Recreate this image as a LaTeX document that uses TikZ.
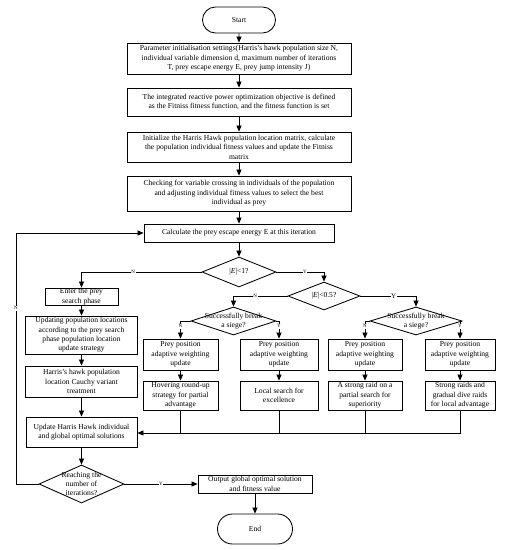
\documentclass[tikz,border=0pt]{standalone}
\usepackage{fontspec}
\setmainfont{Liberation Serif}
\usetikzlibrary{shapes.geometric,shapes.misc,arrows.meta}
\begin{document}
\begin{tikzpicture}[x=1pt,y=-1pt,
  every node/.style={font=\fontsize{7.6}{9.4}\selectfont},
  box/.style={draw,rectangle,inner sep=0pt,align=center,line width=0.85pt},
  term/.style={draw,rounded rectangle,inner sep=0pt,line width=0.85pt},
  dia/.style={draw,diamond,inner sep=0pt,line width=0.85pt},
  arr/.style={-{Triangle[length=6pt,width=5pt]},line width=0.75pt},
  ln/.style={line width=0.75pt},
  yn/.style={font=\fontsize{5}{6}\selectfont,fill=white,inner sep=0.6pt},
  ynbig/.style={font=\fontsize{7}{8}\selectfont,fill=white,inner sep=0.6pt}]
\useasboundingbox (0,0) rectangle (506,550);
% main column
\node[term,minimum width=73pt,minimum height=26pt] (start) at (239,20) {Start};
\node[box,minimum width=224pt,minimum height=31pt] (b1) at (239,58.5) {Parameter initialisation settings(Harris's hawk population size N,\\individual variable dimension d, maximum number of iterations\\T, prey escape energy E, prey jump intensity J)};
\node[box,minimum width=224pt,minimum height=28pt] (b2) at (239,102) {The integrated reactive power optimization objective is defined\\as the Fitniss fitness function, and the fitness function is set};
\node[box,minimum width=224pt,minimum height=30pt] (b3) at (239,147) {Initialize the Harris Hawk population location matrix, calculate\\the population individual fitness values and update the Fitniss\\matrix};
\node[box,minimum width=224pt,minimum height=35pt] (b4) at (239,193.5) {Checking for variable crossing in individuals of the population\\and adjusting individual fitness values to select the best\\individual as prey};
\node[box,minimum width=190pt,minimum height=18pt] (b5) at (239,233) {Calculate the prey escape energy E at this iteration};
% decisions
\node[dia,minimum width=74pt,minimum height=30pt,label=center:{|\textit{E}|<1?}] (d1) at (239,272) {};
\node[dia,minimum width=72pt,minimum height=28pt,label=center:{|\textit{E}|<0.5?}] (d2) at (324,296) {};
\node[dia,minimum width=85pt,minimum height=28pt,label={[align=center]center:Successfully break\\a siege?}] (d3) at (233.5,321) {};
\node[dia,minimum width=92pt,minimum height=28pt,label={[align=center]center:Successfully break\\a siege?}] (d4) at (416,321) {};
% four strategy columns
\node[box,minimum width=75pt,minimum height=31pt] (pa) at (180.5,354.5) {Prey position\\adaptive weighting\\update};
\node[box,minimum width=78pt,minimum height=31pt] (pb) at (279,354.5) {Prey position\\adaptive weighting\\update};
\node[box,minimum width=74pt,minimum height=31pt] (pc) at (365,354.5) {Prey position\\adaptive weighting\\update};
\node[box,minimum width=70pt,minimum height=31pt] (pd) at (460,354.5) {Prey position\\adaptive weighting\\update};
\node[box,minimum width=75pt,minimum height=29pt] (sa) at (180.5,395.5) {Hovering round-up\\strategy for partial\\advantage};
\node[box,minimum width=78pt,minimum height=29pt] (sb) at (279,395.5) {Local search for\\excellence};
\node[box,minimum width=74pt,minimum height=29pt] (sc) at (365,395.5) {A strong raid on a\\partial search for\\superiority};
\node[box,minimum width=70pt,minimum height=29pt] (sd) at (460,395.5) {Strong raids and\\gradual dive raids\\for local advantage};
% left column
\node[box,minimum width=73pt,minimum height=17pt] (enter) at (81.5,296.5) {Enter the prey\\search phase};
\node[box,minimum width=112pt,minimum height=38pt] (upd) at (81.5,335) {Updating population locations\\according to the prey search\\phase population location\\update strategy};
\node[box,minimum width=112pt,minimum height=31pt] (cau) at (81.5,381.5) {Harris's hawk population\\location Cauchy variant\\treatment};
\node[box,minimum width=111pt,minimum height=30pt] (uopt) at (81.5,432) {Update Harris Hawk individual\\and global optimal solutions};
\node[dia,minimum width=85pt,minimum height=38pt,label={[align=center]center:Reaching the\\number of\\iterations?}] (d5) at (81.5,484) {};
\node[box,minimum width=114pt,minimum height=18pt] (out) at (255,484) {Output global optimal solution\\and fitness value};
\node[term,minimum width=75pt,minimum height=30pt] (end) at (255,529) {End};
\coordinate (bus) at (460,433);
\coordinate (lp) at (16,484);
% connectors
\draw[arr] (start) -- (b1);
\draw[arr] (b1) -- (b2);
\draw[arr] (b2) -- (b3);
\draw[arr] (b3) -- (b4);
\draw[arr] (b4) -- (b5);
\draw[arr] (b5) -- (d1);
\draw[arr] (d1.west) -- node[yn,pos=0.57]{N} (d1.west -| enter.north) -- (enter.north);
\draw[arr] (d1.east) -- node[yn,pos=0.6]{Y} (d1.east -| d2.north) -- (d2.north);
\draw[arr] (d2.west) -- node[yn,pos=0.6]{N} (d2.west -| d3.north) -- (d3.north);
\draw[arr] (d2.east) -- node[ynbig,pos=0.6]{Y} (d2.east -| d4.north) -- (d4.north);
\draw[arr] (d3.west) -- (d3.west -| pa.north) -- node[yn,pos=0.3]{N} (pa.north);
\draw[arr] (d3.east) -- (d3.east -| pb.north) -- node[yn,pos=0.3]{Y} (pb.north);
\draw[arr] (d4.west) -- (d4.west -| pc.north) -- node[yn,pos=0.3]{N} (pc.north);
\draw[arr] (d4.east) -- (d4.east -| pd.north) -- node[yn,pos=0.3]{Y} (pd.north);
\draw[arr] (pa) -- (sa);
\draw[arr] (pb) -- (sb);
\draw[arr] (pc) -- (sc);
\draw[arr] (pd) -- (sd);
\draw[ln] (sa.south) -- (sa.south |- bus);
\draw[ln] (sb.south) -- (sb.south |- bus);
\draw[ln] (sc.south) -- (sc.south |- bus);
\draw[arr] (sd.south) -- (bus) -- (bus -| uopt.east);
\draw[arr] (enter) -- (upd);
\draw[arr] (upd) -- (cau);
\draw[arr] (cau) -- (uopt);
\draw[arr] (uopt) -- (d5);
\draw[arr] (d5.east) -- node[yn]{Y} (out.west);
\draw[arr] (out) -- (end);
\draw[arr] (d5.west) -- (lp) -- node[yn,pos=0.7]{N} (lp |- b5.west) -- (b5.west);
\end{tikzpicture}
\end{document}
